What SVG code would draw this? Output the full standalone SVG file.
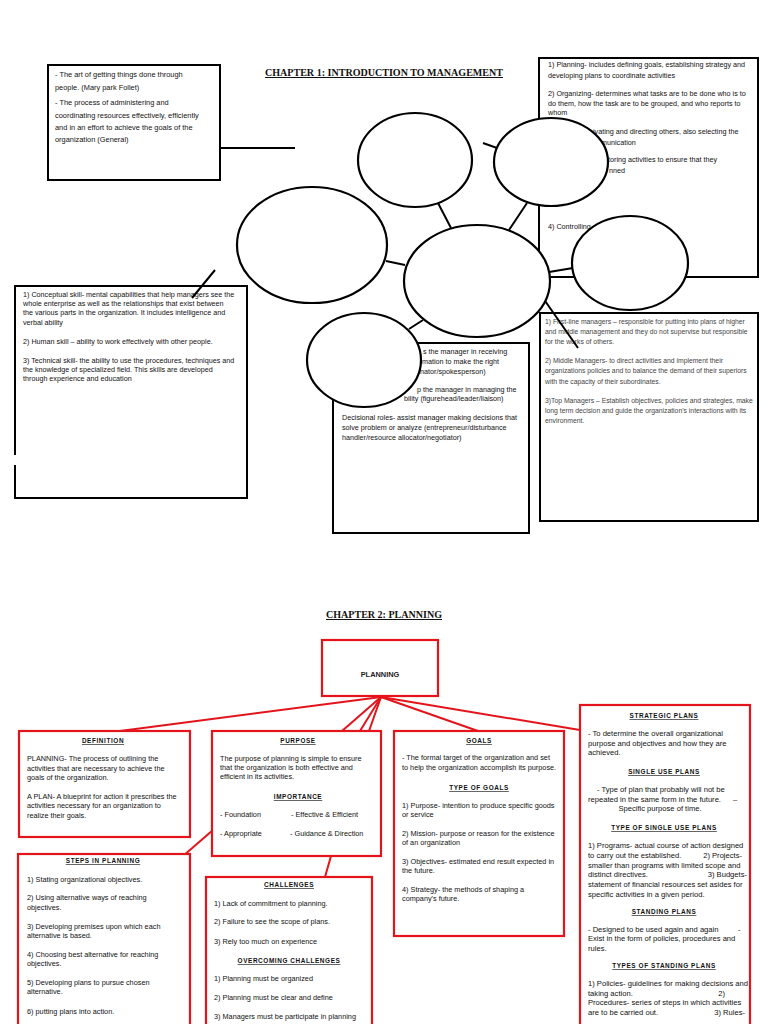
<svg xmlns="http://www.w3.org/2000/svg" width="768" height="1024" viewBox="0 0 768 1024">
<style>
.bx{fill:#fff;stroke:#000;stroke-width:2}
.rb{fill:#fff;stroke:#e3141b;stroke-width:2.2}
.ov{fill:#fff;stroke:#000;stroke-width:2.2}
.ln{stroke:#000;stroke-width:2;fill:none}
.rl{stroke:#e3141b;stroke-width:2;fill:none}
text{font-family:"Liberation Sans",Arial,sans-serif}
.s{font-size:7.2px;fill:#111}
.t{font-size:7.4px;fill:#111}
.c{font-size:6.8px;fill:#444}
.r{font-size:7.3px;fill:#111}
.q{font-size:7.6px;fill:#111}
.h{font-size:6.4px;font-weight:bold;text-decoration:underline;text-anchor:middle;letter-spacing:0.6px;fill:#111}
.ti{font-family:"Liberation Serif",serif;font-weight:bold;font-size:10px;text-decoration:underline;text-anchor:middle;fill:#111}
</style>
<rect width="768" height="1024" fill="#fff"/>

<text class="ti" x="384" y="76" textLength="238" lengthAdjust="spacingAndGlyphs">CHAPTER 1: INTRODUCTION TO MANAGEMENT</text>

<g id="box-definition-mgmt">
<rect class="bx" x="48" y="65" width="172" height="115"/>
<text class="t" x="55" y="77">-  The art of getting things done through</text>
<text class="t" x="55" y="90">people. (Mary park Follet)</text>
<text class="t" x="55" y="105">- The process of administering and</text>
<text class="t" x="55" y="118">coordinating resources effectively, efficiently</text>
<text class="t" x="55" y="130">and in an effort to achieve the goals of the</text>
<text class="t" x="55" y="142">organization (General)</text>
</g>

<g id="box-functions">
<rect class="bx" x="539" y="58" width="219" height="219"/>
<text class="s" x="548" y="67">1) Planning- includes defining goals, establishing strategy and</text>
<text class="s" x="548" y="78">developing plans to coordinate activities</text>
<text class="s" x="548" y="96">2) Organizing- determines what tasks are to be done who is to</text>
<text class="s" x="548" y="106">do them, how the task are to be grouped, and who reports to</text>
<text class="s" x="548" y="115">whom</text>
<text class="s" x="593" y="134">ivating and directing others, also selecting the</text>
<text class="s" x="601" y="145">munication</text>
<text class="s" x="608" y="162">toring activities to ensure that they</text>
<text class="s" x="609" y="173">nned</text>
<text class="s" x="548" y="229">4) Controlling</text>
</g>

<g id="box-skills">
<path class="bx" d="M15,455 V286 H247 V498 H15 V465"/>
<text class="s" x="23" y="297">1) Conceptual skill- mental capabilities that help managers see the</text>
<text class="s" x="23" y="306">whole enterprise as well as the relationships that exist between</text>
<text class="s" x="23" y="315">the various parts in the organization. It includes intelligence and</text>
<text class="s" x="23" y="325">verbal ability</text>
<text class="s" x="23" y="344">2) Human skill – ability to work effectively with other people.</text>
<text class="s" x="23" y="363">3) Technical skill- the ability to use the procedures, techniques and</text>
<text class="s" x="23" y="372">the knowledge of specialized field. This skills are developed</text>
<text class="s" x="23" y="381">through experience and education</text>
</g>

<g id="box-roles">
<rect class="bx" x="333" y="343" width="196" height="190"/>
<text class="s" x="423" y="354">s the manager in receiving</text>
<text class="s" x="422" y="364">mation to make the right</text>
<text class="s" x="420" y="374">nator/spokesperson)</text>
<text class="s" x="417" y="392">p the manager in managing the</text>
<text class="s" x="404" y="401">bility (figurehead/leader/liaison)</text>
<text class="s" x="342" y="420">Decisional roles- assist manager making decisions that</text>
<text class="s" x="342" y="430">solve problem or analyze (entrepreneur/disturbance</text>
<text class="s" x="342" y="440">handler/resource allocator/negotiator)</text>
</g>

<g id="box-levels">
<rect class="bx" x="540" y="313" width="218" height="208"/>
<text class="c" x="545" y="324">1) First-line managers – responsible for putting into plans of higher</text>
<text class="c" x="545" y="334">and middle management and they do not supervise but responsible</text>
<text class="c" x="545" y="344">for the works of others.</text>
<text class="c" x="545" y="363">2) Middle Managers- to direct activities and implement their</text>
<text class="c" x="545" y="373">organizations policies and to balance the demand of their superiors</text>
<text class="c" x="545" y="384">with the capacity of their subordinates.</text>
<text class="c" x="545" y="403">3)Top Managers – Establish objectives, policies and strategies, make</text>
<text class="c" x="545" y="413">long term decision and guide the organization’s interactions with its</text>
<text class="c" x="545" y="423">environment.</text>
</g>

<g id="connectors-ch1">
<line class="ln" x1="220" y1="148" x2="295" y2="148"/>
<line class="ln" x1="483" y1="143" x2="497" y2="148"/>
<line class="ln" x1="438" y1="203" x2="451" y2="228"/>
<line class="ln" x1="527" y1="203" x2="509" y2="230"/>
<line class="ln" x1="386" y1="261" x2="405" y2="265"/>
<line class="ln" x1="409" y1="329" x2="423" y2="320"/>
<line class="ln" x1="549" y1="272" x2="573" y2="268"/>
<line class="ln" x1="215" y1="270" x2="192" y2="298"/>
<line class="ln" x1="543" y1="298" x2="578" y2="348"/>
</g>

<g id="oval-top"><ellipse class="ov" cx="415" cy="160" rx="57" ry="47"/></g>
<g id="oval-top-right"><ellipse class="ov" cx="551" cy="162" rx="57" ry="44"/></g>
<g id="oval-left"><ellipse class="ov" cx="312" cy="245" rx="75" ry="58"/></g>
<g id="oval-center"><ellipse class="ov" cx="477" cy="281" rx="73" ry="56"/></g>
<g id="oval-right"><ellipse class="ov" cx="630" cy="263" rx="58" ry="47"/></g>
<g id="oval-bottom"><ellipse class="ov" cx="364" cy="360" rx="57" ry="47"/></g>

<text class="ti" x="384" y="618" textLength="116" lengthAdjust="spacingAndGlyphs">CHAPTER 2: PLANNING</text>

<g id="connectors-ch2">
<line class="rl" x1="381" y1="697" x2="120" y2="731"/>
<line class="rl" x1="381" y1="697" x2="342" y2="731"/>
<line class="rl" x1="381" y1="697" x2="360" y2="731"/>
<line class="rl" x1="381" y1="697" x2="369" y2="731"/>
<line class="rl" x1="381" y1="697" x2="478" y2="731"/>
<line class="rl" x1="381" y1="697" x2="580" y2="730"/>
<line class="rl" x1="183" y1="856" x2="213" y2="830"/>
<line class="rl" x1="331" y1="856" x2="325" y2="877"/>
</g>

<g id="node-planning">
<rect class="rb" x="322" y="640" width="116" height="56"/>
<text x="380" y="677" text-anchor="middle" font-size="7.4" font-weight="bold" fill="#222">PLANNING</text>
</g>

<g id="node-definition">
<rect class="rb" x="19" y="731" width="171" height="106"/>
<text class="h" x="103" y="743">DEFINITION</text>
<text class="r" x="27" y="761">PLANNING- The process of outlining the</text>
<text class="r" x="27" y="771">activities that are necessary to achieve the</text>
<text class="r" x="27" y="780">goals of the organization.</text>
<text class="r" x="27" y="799">A PLAN- A blueprint for action it prescribes the</text>
<text class="r" x="27" y="808">activities necessary for an organization to</text>
<text class="r" x="27" y="818">realize their goals.</text>
</g>

<g id="node-purpose">
<rect class="rb" x="212" y="731" width="169" height="125"/>
<text class="h" x="298" y="743">PURPOSE</text>
<text class="r" x="220" y="761">The purpose of planning is simple to ensure</text>
<text class="r" x="220" y="770">that the organization is both effective and</text>
<text class="r" x="220" y="779">efficient in its activities.</text>
<text class="h" x="298" y="799">IMPORTANCE</text>
<text class="r" x="220" y="817">-  Foundation</text>
<text class="r" x="291" y="817">- Effective &amp; Efficient</text>
<text class="r" x="220" y="836">- Appropriate</text>
<text class="r" x="290" y="836">- Guidance &amp; Direction</text>
</g>

<g id="node-goals">
<rect class="rb" x="394" y="731" width="170" height="205"/>
<text class="h" x="479" y="743">GOALS</text>
<text class="r" x="402" y="760">- The formal target of the organization and set</text>
<text class="r" x="402" y="770">to help the organization accomplish its purpose.</text>
<text class="h" x="479" y="790">TYPE OF GOALS</text>
<text class="r" x="402" y="808">1) Purpose- intention to produce specific goods</text>
<text class="r" x="402" y="817">or service</text>
<text class="r" x="402" y="836">2) Mission- purpose or reason for the existence</text>
<text class="r" x="402" y="845">of an organization</text>
<text class="r" x="402" y="864">3) Objectives- estimated end result expected in</text>
<text class="r" x="402" y="873">the future.</text>
<text class="r" x="402" y="892">4) Strategy- the methods of shaping a</text>
<text class="r" x="402" y="901">company's future.</text>
</g>

<g id="node-plans">
<rect class="rb" x="580" y="705" width="170" height="330"/>
<text class="h" x="664" y="718">STRATEGIC PLANS</text>
<text class="q" x="588" y="736">- To determine the overall organizational</text>
<text class="q" x="588" y="746">purpose and objectives and how they are</text>
<text class="q" x="588" y="755">achieved.</text>
<text class="h" x="664" y="774">SINGLE USE PLANS</text>
<text class="q" x="597" y="792">- Type of plan that probably will not be</text>
<text class="q" x="588" y="802">repeated in the same form in the future.</text>
<text class="q" x="733" y="802">–</text>
<text class="q" x="660" y="811" text-anchor="middle">Specific purpose of time.</text>
<text class="h" x="664" y="830">TYPE OF SINGLE USE PLANS</text>
<text class="q" x="588" y="848">1) Programs- actual course of action designed</text>
<text class="q" x="588" y="858">to carry out the established.</text>
<text class="q" x="742" y="858" text-anchor="end">2) Projects-</text>
<text class="q" x="588" y="868">smaller than programs with limited scope and</text>
<text class="q" x="588" y="877">distinct directives.</text>
<text class="q" x="747" y="877" text-anchor="end">3) Budgets-</text>
<text class="q" x="588" y="887">statement of financial resources set asides for</text>
<text class="q" x="588" y="897">specific activities in a given period.</text>
<text class="h" x="664" y="914">STANDING PLANS</text>
<text class="q" x="588" y="932">- Designed to be used again and again</text>
<text class="q" x="738" y="932">-</text>
<text class="q" x="588" y="941">Exist in the form of policies, procedures and</text>
<text class="q" x="588" y="951">rules.</text>
<text class="h" x="664" y="968">TYPES OF STANDING PLANS</text>
<text class="q" x="588" y="986">1) Policies- guidelines for making decisions and</text>
<text class="q" x="588" y="996">taking action.</text>
<text class="q" x="725" y="996" text-anchor="end">2)</text>
<text class="q" x="588" y="1005">Procedures- series of steps in which activities</text>
<text class="q" x="588" y="1015">are to be carried out.</text>
<text class="q" x="745" y="1015" text-anchor="end">3) Rules-</text>
</g>

<g id="node-steps">
<rect class="rb" x="18" y="854" width="172" height="180"/>
<text class="h" x="103" y="863">STEPS IN PLANNING</text>
<text class="r" x="27" y="882">1) Stating organizational objectives.</text>
<text class="r" x="27" y="900">2) Using alternative ways of reaching</text>
<text class="r" x="27" y="910">objectives.</text>
<text class="r" x="27" y="929">3) Developing premises upon which each</text>
<text class="r" x="27" y="938">alternative is based.</text>
<text class="r" x="27" y="957">4) Choosing best alternative for reaching</text>
<text class="r" x="27" y="966">objectives.</text>
<text class="r" x="27" y="985">5) Developing plans to pursue chosen</text>
<text class="r" x="27" y="994">alternative.</text>
<text class="r" x="27" y="1014">6) putting plans into action.</text>
</g>

<g id="node-challenges">
<rect class="rb" x="206" y="877" width="166" height="160"/>
<text class="h" x="289" y="887">CHALLENGES</text>
<text class="r" x="214" y="906">1) Lack of commitment to planning.</text>
<text class="r" x="214" y="924">2) Failure to see the scope of plans.</text>
<text class="r" x="214" y="944">3) Rely too much on experience</text>
<text class="h" x="289" y="963">OVERCOMING CHALLENGES</text>
<text class="r" x="214" y="981">1) Planning must be organized</text>
<text class="r" x="214" y="1000">2) Planning must be clear and define</text>
<text class="r" x="214" y="1019">3) Managers must be participate in planning</text>
</g>
</svg>
